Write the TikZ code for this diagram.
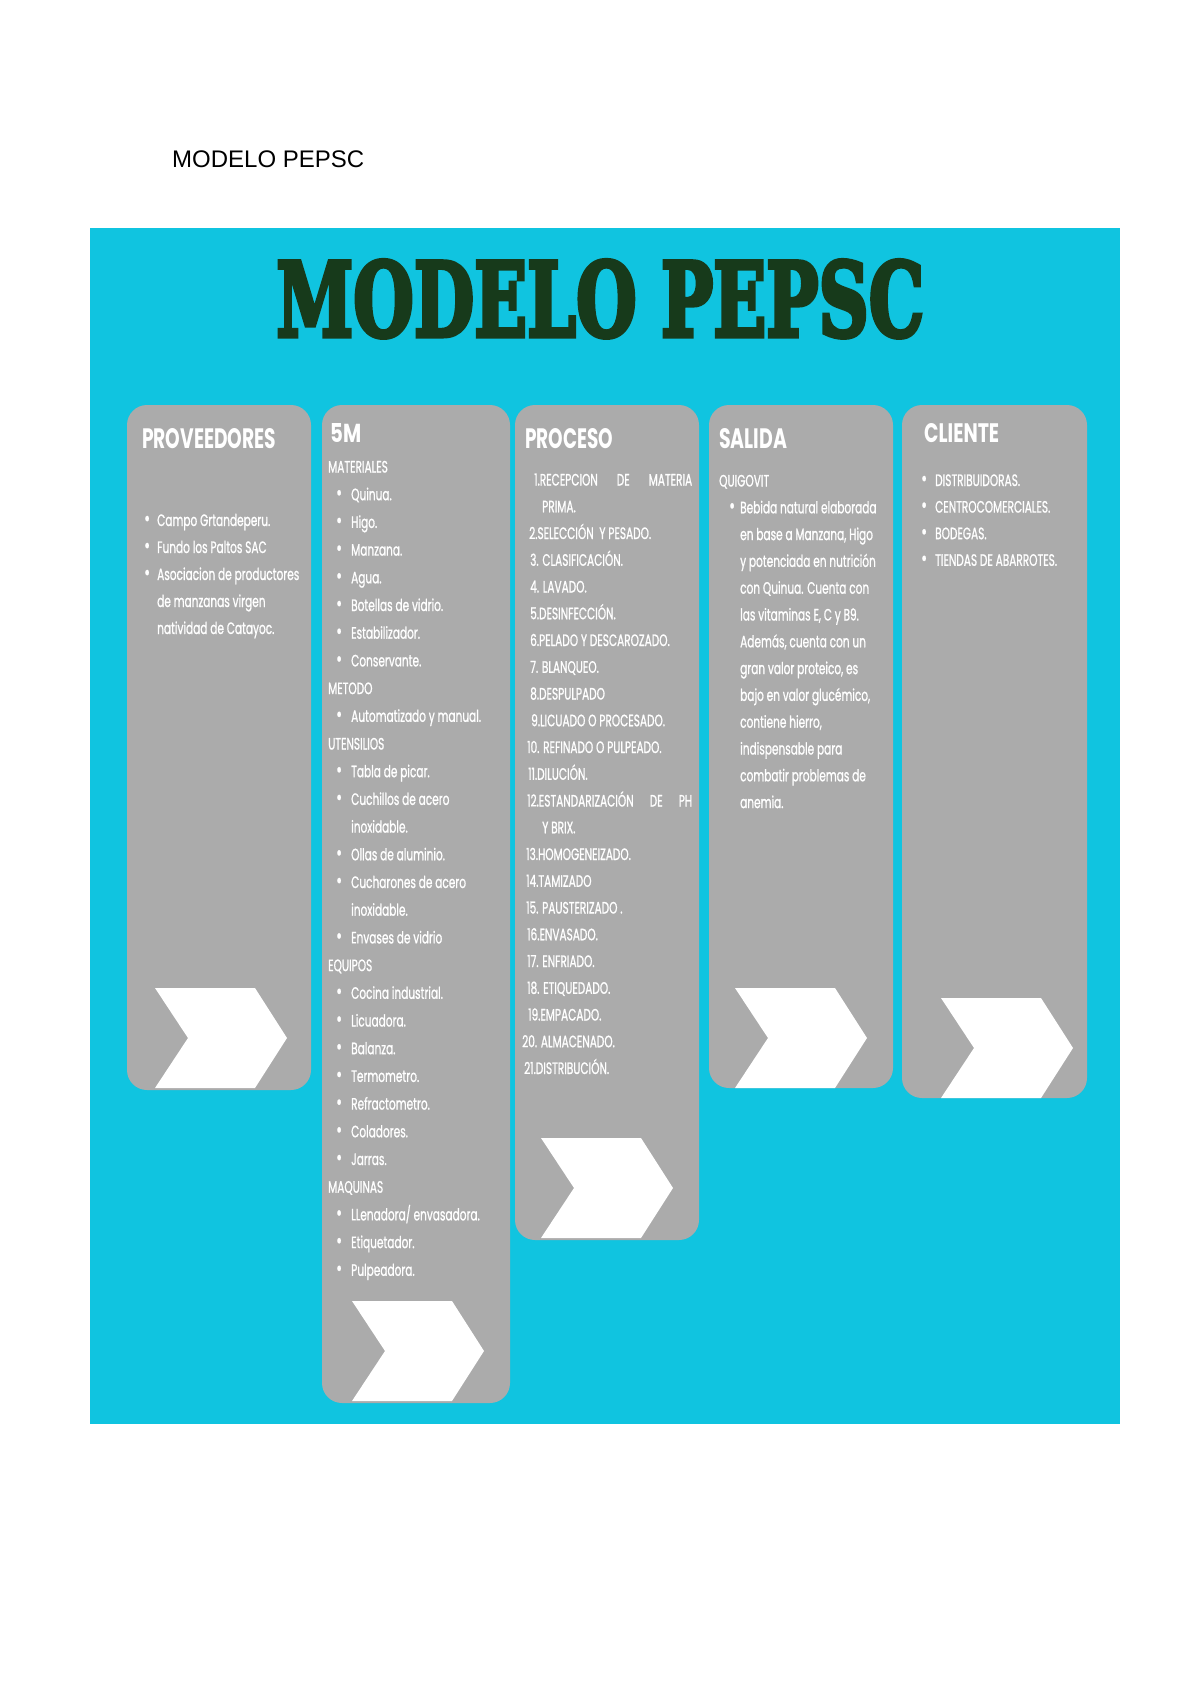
\documentclass[tikz,border=0pt]{standalone}
\usepackage{fontspec}
\setmainfont{Poppins}
\newfontfamily\bodyfont[FakeStretch=0.64,FakeBold=0.9]{Poppins}
\newfontfamily\headfont{Poppins}
\newfontfamily\titlefont[FakeBold=4.5]{DejaVu Serif}
\newfontfamily\arialfont{Liberation Sans}
\definecolor{panelcyan}{RGB}{16,196,224}
\definecolor{boxgrey}{RGB}{171,171,171}
\definecolor{titlegreen}{RGB}{23,58,27}
\tikzset{
  colbox/.style={fill=boxgrey, rounded corners=20pt},
  chevfill/.style={fill=white},
  bodytxt/.style={inner sep=0pt, anchor=base west, text=white, font=\bodyfont},
  headtxt/.style={inner sep=0pt, anchor=north west, text=white},
}
\newcommand\colhead[3]{\resizebox{#1pt}{#2pt}{\headfont\bfseries #3}}
\newcommand\blt[2]{\hspace*{#1pt}\makebox[#2pt][l]{\scalebox{1.35}{\textbullet}}}
\newcommand\drawchev[2]{\fill[chevfill] (#1,#2) -- ++(100,0) -- ++(32,50) -- ++(-32,50) -- ++(-100,0) -- ++(33,-50) -- cycle;}
\begin{document}
\begin{tikzpicture}[x=1pt,y=-1pt]
\useasboundingbox (0,0) rectangle (1200,1698);
\fill[white] (0,0) rectangle (1200,1698);

\node[inner sep=0pt, anchor=base west, font=\arialfont\fontsize{24}{28}\selectfont] (pageTitle) at (172,167) {MODELO PEPSC};

\fill[panelcyan] (90,228) rectangle (1120,1424);

\node[inner sep=0pt, anchor=north west, text=titlegreen] (bigTitle) at (276,260) {\resizebox{648pt}{76pt}{\titlefont\bfseries MODELO PEPSC}};

% column boxes
\fill[colbox] (127,405) rectangle (311,1090);
\fill[colbox] (322,405) rectangle (510,1403);
\fill[colbox] (515,405) rectangle (699,1240);
\fill[colbox] (709,405) rectangle (893,1088);
\fill[colbox] (902,405) rectangle (1087,1098);

% chevrons
\drawchev{155}{988}
\drawchev{352}{1301}
\drawchev{541}{1138}
\drawchev{735}{988}
\drawchev{941}{998}

% headings
\node[headtxt] (hProv) at (142,428) {\colhead{134}{20}{PROVEEDORES}};
\node[headtxt] (hFive) at (330,423) {\colhead{31}{19}{5M}};
\node[headtxt] (hProc) at (525,428) {\colhead{88}{20}{PROCESO}};
\node[headtxt] (hSal) at (719,428) {\colhead{68}{20}{SALIDA}};
\node[headtxt] (hCli) at (924,423) {\colhead{75}{19}{CLIENTE}};

% PROVEEDORES
\node[bodytxt] (tProv) at (144,526) {\begin{minipage}[t]{180pt}\fontsize{16.5}{27}\selectfont
\blt{0}{13}Campo Grtandeperu.\\
\blt{0}{13}Fundo los Paltos SAC\\
\blt{0}{13}Asociacion de productores\\
\hspace*{13pt}de manzanas virgen\\
\hspace*{13pt}natividad de Catayoc.
\end{minipage}};

% 5M
\node[bodytxt] (tFive) at (328,472.5) {\begin{minipage}[t]{200pt}\fontsize{16.5}{27.7}\selectfont
MATERIALES\\
\blt{8}{15}Quinua.\\
\blt{8}{15}Higo.\\
\blt{8}{15}Manzana.\\
\blt{8}{15}Agua.\\
\blt{8}{15}Botellas de vidrio.\\
\blt{8}{15}Estabilizador.\\
\blt{8}{15}Conservante.\\
METODO\\
\blt{8}{15}Automatizado y manual.\\
UTENSILIOS\\
\blt{8}{15}Tabla de picar.\\
\blt{8}{15}Cuchillos de acero\\
\hspace*{23pt}inoxidable.\\
\blt{8}{15}Ollas de aluminio.\\
\blt{8}{15}Cucharones de acero\\
\hspace*{23pt}inoxidable.\\
\blt{8}{15}Envases de vidrio\\
EQUIPOS\\
\blt{8}{15}Cocina industrial.\\
\blt{8}{15}Licuadora.\\
\blt{8}{15}Balanza.\\
\blt{8}{15}Termometro.\\
\blt{8}{15}Refractometro.\\
\blt{8}{15}Coladores.\\
\blt{8}{15}Jarras.\\
MAQUINAS\\
\blt{8}{15}LLenadora/ envasadora.\\
\blt{8}{15}Etiquetador.\\
\blt{8}{15}Pulpeadora.
\end{minipage}};

% PROCESO
\node[bodytxt] (tProc) at (522,485.5) {\begin{minipage}[t]{200pt}\fontsize{16.5}{26.75}\selectfont
\hspace*{12pt}\makebox[158pt][s]{1.RECEPCION DE MATERIA}\\
\hspace*{20pt}PRIMA.\\
\hspace*{7pt}2.SELECCIÓN\ \ Y PESADO.\\
\hspace*{8pt}3. CLASIFICACIÓN.\\
\hspace*{8pt}4. LAVADO.\\
\hspace*{8pt}5.DESINFECCIÓN.\\
\hspace*{8pt}6.PELADO Y DESCAROZADO.\\
\hspace*{8pt}7. BLANQUEO.\\
\hspace*{8pt}8.DESPULPADO\\
\hspace*{9pt}9.LICUADO O PROCESADO.\\
\hspace*{5pt}10. REFINADO O PULPEADO.\\
\hspace*{6pt}11.DILUCIÓN.\\
\hspace*{5pt}\makebox[165pt][s]{12.ESTANDARIZACIÓN DE PH}\\
\hspace*{20pt}Y BRIX.\\
\hspace*{4pt}13.HOMOGENEIZADO.\\
\hspace*{4pt}14.TAMIZADO\\
\hspace*{4pt}15. PAUSTERIZADO .\\
\hspace*{5pt}16.ENVASADO.\\
\hspace*{5pt}17. ENFRIADO.\\
\hspace*{5pt}18. ETIQUEDADO.\\
\hspace*{6pt}19.EMPACADO.\\
\hspace*{0pt}20. ALMACENADO.\\
\hspace*{2pt}21.DISTRIBUCIÓN.
\end{minipage}};

% SALIDA
\node[bodytxt] (tSal) at (719,486.5) {\begin{minipage}[t]{200pt}\fontsize{16.5}{26.8}\selectfont
QUIGOVIT\\
\blt{10}{11}Bebida natural elaborada\\
\hspace*{21pt}en base a Manzana, Higo\\
\hspace*{21pt}y potenciada en nutrición\\
\hspace*{21pt}con Quinua. Cuenta con\\
\hspace*{21pt}las vitaminas E, C y B9.\\
\hspace*{21pt}Además, cuenta con un\\
\hspace*{21pt}gran valor proteico, es\\
\hspace*{21pt}bajo en valor glucémico,\\
\hspace*{21pt}contiene hierro,\\
\hspace*{21pt}indispensable para\\
\hspace*{21pt}combatir problemas de\\
\hspace*{21pt}anemia.
\end{minipage}};

% CLIENTE
\node[bodytxt] (tCli) at (921,486) {\begin{minipage}[t]{200pt}\fontsize{16.5}{26.6}\selectfont
\blt{0}{14}DISTRIBUIDORAS.\\
\blt{0}{14}CENTROCOMERCIALES.\\
\blt{0}{14}BODEGAS.\\
\blt{0}{14}TIENDAS DE ABARROTES.
\end{minipage}};
\end{tikzpicture}
\end{document}
